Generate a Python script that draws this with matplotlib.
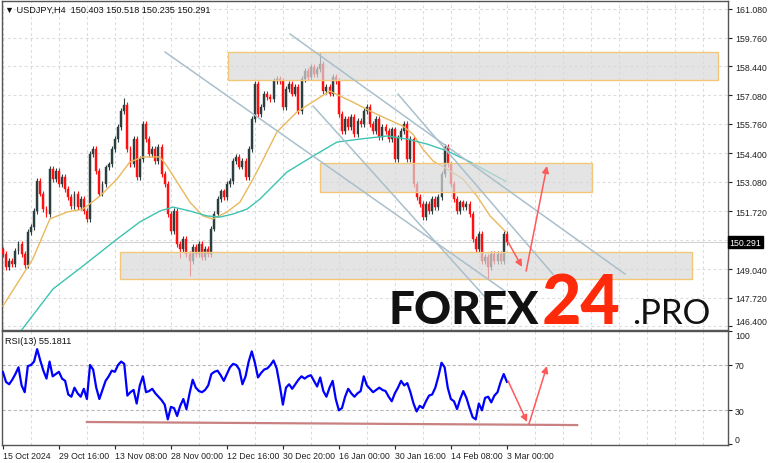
"""USDJPY H4 chart with RSI(13), MT4 style, FOREX24 watermark."""
import matplotlib
matplotlib.use("Agg")
import matplotlib.pyplot as plt
from matplotlib.patches import Rectangle
from matplotlib.ticker import FixedLocator

# ---- data (one candle ~ 3 px)
first_open = 149.95
closes = [
    149.74, 149.14, 149.41, 149.27, 149.88, 150.20, 149.74, 149.23, 150.76, 150.99,
    151.73, 153.12, 152.52, 151.82, 151.59, 153.67, 153.21, 153.58, 152.98, 153.30,
    152.75, 152.38, 151.96, 152.52, 151.91, 152.28, 151.73, 151.36, 154.37, 154.60,
    153.58, 152.52, 152.98, 153.76, 153.90, 154.60, 155.06, 155.62, 156.36, 156.64,
    154.60, 153.90, 155.06, 153.30, 154.14, 155.76, 155.06, 154.37, 154.60, 154.04,
    154.69, 153.44, 152.98, 151.59, 150.80, 151.73, 150.20, 149.97, 150.43, 149.74,
    149.41, 150.06, 149.74, 150.20, 149.60, 149.97, 149.74, 150.90, 151.59, 152.28,
    152.65, 152.38, 152.98, 153.12, 154.04, 154.23, 153.77, 154.04, 153.30, 154.60,
    155.99, 157.61, 156.22, 156.54, 157.15, 157.01, 156.91, 157.75, 157.84, 157.75,
    156.54, 157.38, 157.61, 157.15, 157.47, 156.36, 157.84, 158.21, 157.93, 158.40,
    158.07, 158.30, 158.53, 157.28, 157.47, 157.15, 157.93, 157.75, 156.22, 155.43,
    155.99, 155.62, 156.08, 155.29, 155.90, 155.76, 156.36, 156.54, 155.76, 155.43,
    155.99, 155.15, 155.62, 155.43, 155.06, 155.52, 154.14, 155.15, 155.43, 155.76,
    154.14, 155.06, 152.98, 152.38, 152.05, 151.45, 152.05, 151.73, 152.28, 151.91,
    152.38, 153.44, 154.69, 153.90, 152.98, 152.28, 151.73, 152.14, 151.91, 152.05,
    151.59, 150.43, 149.97, 150.66, 149.41, 149.60, 149.14, 149.74, 149.41, 149.74,
    149.41, 150.66, 150.29,
]
spike_high = {39: 156.95, 102: 159.02, 142: 154.85}
spike_low = {60: 148.72, 156: 148.60, 57: 149.55}

ma_fast_i = [0, 4.5, 9.6, 15.1, 20.6, 25.7, 31.2, 36.7, 40.8, 45, 50.5, 52.7, 56, 60.1,
             64.3, 67.5, 72, 76.2, 80.4, 82.6, 88.1, 94.5, 101, 105.1, 108.4, 112.5,
             118, 123.5, 128.6, 131.8, 135, 138.3, 142.8, 147.9, 152.4, 156.6, 161.7]
ma_fast = [147.33, 148.35, 149.51, 151.36, 151.68, 151.82, 152.42, 153.21, 154.00,
           154.23, 154.23, 153.81, 153.07, 152.14, 151.50, 151.36, 151.68, 152.14,
           153.21, 153.81, 155.39, 156.31, 156.91, 157.28, 157.05, 156.77, 156.36,
           155.99, 155.66, 155.29, 154.60, 154.04, 153.67, 153.21, 152.42, 151.50, 150.76]
ma_slow_i = [6, 16.1, 25.7, 36.7, 44, 50.5, 54.7, 60.1, 65.6, 69.8, 74, 78.5, 82.6,
             91.3, 99.7, 107.4, 114.8, 123.5, 129.9, 136.3, 142.8, 150.2, 161.7]
ma_slow = [146.22, 148.12, 149.18, 150.43, 151.22, 151.73, 151.91, 151.73, 151.50,
           151.45, 151.59, 151.82, 152.28, 153.53, 154.27, 154.92, 155.06, 155.20,
           155.06, 154.83, 154.51, 154.00, 153.10]

rsi = [
    63.8, 55, 53, 57, 62, 68, 52, 46, 69, 70, 73, 84, 74, 65, 58, 73, 60, 62, 64, 58,
    56, 44, 42, 50, 45, 42, 49, 40, 70, 66, 50, 40, 48, 56, 60, 65, 64, 70, 73, 71,
    43, 46, 48, 36, 52, 60, 46, 47, 49, 45, 42, 39, 35, 22, 33, 32, 25, 34, 40, 31,
    45, 57, 50, 47, 46, 48, 52, 62, 64, 65, 61, 56, 62, 68, 71, 70, 66, 53, 60, 73,
    82, 72, 59, 63, 66, 67, 70, 74, 67, 52, 35, 50, 53, 49, 53, 57, 60, 58, 60, 61,
    56, 51, 59, 47, 42, 50, 56, 40, 30, 32, 42, 49, 45, 42, 45, 47, 60, 52, 49, 46,
    48, 50, 48, 47, 42, 38, 45, 50, 56, 52, 54, 46, 36, 29, 34, 32, 38, 43, 44, 50,
    60, 72, 68, 50, 40, 38, 31, 40, 47, 41, 32, 24, 22, 36, 30, 41, 42, 37, 43, 46,
    55, 62, 55.18,
]

zone_start = [72.3, 101.9, 37.6]
zone_end = [229.9, 189.4, 221.5]
zone_low = [157.79, 152.61, 148.58]
zone_high = [159.09, 153.95, 149.83]

trend_i0 = [52.1, 99.7, 92.3, 127.0]
trend_p0 = [159.09, 156.59, 159.92, 157.14]
trend_i1 = [161.4, 155.6, 200.0, 176.8]
trend_p1 = [148.02, 147.65, 148.81, 148.81]

fc_i = [162.4, 166.9, 168.2, 174.9]
fc_price = [150.29, 149.14, 148.95, 153.81]
fc_rsi_i = [162.4, 168.5, 169.1, 174.9]
fc_rsi = [55.9, 19.7, 17.9, 69.1]
rsi_support_i = [27, 184.6]
rsi_support = [19.7, 17.0]

price_ticks = [146.40, 147.72, 149.04, 150.40, 151.72, 153.08, 154.40, 155.76,
               157.08, 158.44, 159.76, 161.08]
date_labels = ["15 Oct 2024", "29 Oct 16:00", "13 Nov 08:00", "28 Nov 00:00",
               "12 Dec 16:00", "30 Dec 20:00", "16 Jan 00:00", "30 Jan 16:00",
               "14 Feb 08:00", "3 Mar 00:00"]
last_price = 150.291

# ---- style
BULL = "#2c3e3e"
BEAR = "#ff1010"
GRID = "#dcdcdc"
FRAME = "#555555"
TREND = "#a9c0cc"
ARROW = "#ff5a5a"
plt.rcParams.update({"font.family": "Liberation Sans", "font.size": 6.3,
                     "axes.edgecolor": FRAME, "axes.linewidth": 1.0,
                     "xtick.color": "#222222", "ytick.color": "#222222"})

W, H = 768, 464
fig = plt.figure(figsize=(W / 100, H / 100), dpi=100)
ax = fig.add_axes([2 / W, 1 - 331 / H, 726 / W, 329 / H])
ax2 = fig.add_axes([2 / W, 1 - 446 / H, 726 / W, 114 / H])
xmax = 233.1

# ---- candles
opens = [first_open] + closes[:-1]
for i, (o, c) in enumerate(zip(opens, closes)):
    col = BULL if c >= o else BEAR
    hi = spike_high.get(i, max(o, c) + 0.12)
    lo = spike_low.get(i, min(o, c) - 0.12)
    ax.vlines(i, lo, hi, color=col, lw=0.8, zorder=3)
    ax.bar(i, max(abs(c - o), 0.03), bottom=min(o, c), width=0.62, color=col,
           edgecolor=col, lw=0.3, zorder=3)

ax.plot(ma_fast_i, ma_fast, color="#e9b85c", lw=1.0, zorder=4)
ax.plot(ma_slow_i, ma_slow, color="#3cc3b2", lw=1.0, zorder=4)

for s, e, lo, hi in zip(zone_start, zone_end, zone_low, zone_high):
    ax.add_patch(Rectangle((s, lo), e - s, hi - lo, facecolor="#d9d9d9", alpha=0.7,
                           edgecolor="none", zorder=5))
    ax.add_patch(Rectangle((s, lo), e - s, hi - lo, facecolor="none",
                           edgecolor="#f2c77a", lw=1.0, zorder=5))

for a0, p0, a1, p1 in zip(trend_i0, trend_p0, trend_i1, trend_p1):
    ax.plot([a0, a1], [p0, p1], color=TREND, lw=1.1, zorder=6)

ax.axhline(last_price, color="#cfcfcf", lw=0.7, zorder=1)

for k in (0, 2):
    ax.annotate("", xy=(fc_i[k + 1], fc_price[k + 1]), xytext=(fc_i[k], fc_price[k]),
                arrowprops=dict(arrowstyle="-|>", color=ARROW, lw=1.1,
                                mutation_scale=10, shrinkA=0, shrinkB=0), zorder=7)

ax.set_xlim(-0.3, xmax)
ax.set_ylim(146.22, 161.45)
ax.yaxis.tick_right()
ax.set_yticks(price_ticks)
# the 150.400 label sits under the current-price box, as in the terminal
ax.set_yticklabels(["" if abs(v - 150.40) < 1e-6 else f"{v:.3f}" for v in price_ticks])
ax.tick_params(axis="y", length=3, width=0.8, pad=2)
ax.xaxis.set_major_locator(FixedLocator([9 * k for k in range(26)]))
ax.tick_params(axis="x", length=0, labelbottom=False)
ax.grid(True, color=GRID, lw=0.8, ls=(0, (2.5, 2.5)))
ax.set_axisbelow(True)
for lab in ax.get_yticklabels():
    if lab.get_text() == "146.400":
        lab.set_va("bottom")

ax.text(1.002, last_price, "150.291", transform=ax.get_yaxis_transform(),
        ha="left", va="center", color="white", fontsize=6.3, zorder=10,
        bbox=dict(boxstyle="square,pad=0.15", fc="black", ec="black"), clip_on=False)
ax.text(0.004, 0.987, "\u25bc USDJPY,H4  150.403 150.518 150.235 150.291",
        transform=ax.transAxes, ha="left", va="top", fontsize=6.6,
        family=["Liberation Sans", "DejaVu Sans"], color="#111111", zorder=10)

# ---- RSI panel
ax2.plot(range(len(rsi)), rsi, color="#0000ff", lw=1.6, zorder=4)
for lvl in (30, 70):
    ax2.axhline(lvl, color="#b8b8b8", lw=0.8, ls=(0, (3, 2)), zorder=1)
ax2.plot(rsi_support_i, rsi_support, color="#c98080", lw=1.6, zorder=3)
for k in (0, 2):
    ax2.annotate("", xy=(fc_rsi_i[k + 1], fc_rsi[k + 1]), xytext=(fc_rsi_i[k], fc_rsi[k]),
                 arrowprops=dict(arrowstyle="-|>", color=ARROW, lw=1.1,
                                 mutation_scale=10, shrinkA=0, shrinkB=0), zorder=7)
ax2.set_xlim(-0.3, xmax)
ax2.set_ylim(-0.6, 100)
ax2.yaxis.tick_right()
ax2.set_yticks([0, 30, 70, 100])
ax2.set_yticklabels(["0", "30", "70", "100"])
ax2.tick_params(axis="y", length=3, width=0.8, pad=2)
labs = ax2.get_yticklabels()
labs[0].set_va("bottom")
labs[-1].set_va("top")
ax2.set_xticks([18 * k for k in range(len(date_labels))])
ax2.set_xticklabels(date_labels, ha="left")
ax2.set_xticks([9 * k for k in range(26)], minor=True)
ax2.tick_params(axis="x", which="major", length=3, width=0.8, pad=1.5)
ax2.tick_params(axis="x", which="minor", length=0)
ax2.grid(True, axis="x", which="minor", color=GRID, lw=0.8, ls=(0, (2.5, 2.5)))
ax2.set_axisbelow(True)
ax2.text(0.004, 0.955, "RSI(13) 55.1811", transform=ax2.transAxes, ha="left", va="top",
         fontsize=6.6, color="#111111")

# ---- watermark
base = 1 - 324 / H
fig.text(389 / W, base, "FOREX", fontsize=33, fontweight="black", family="Lato",
         color="#111111", va="baseline", zorder=20)
fig.text(542 / W, base, "24", fontsize=49, fontweight="black", family="Lato",
         color="#ff2a0a", va="baseline", zorder=20)
fig.text(632 / W, base, ".PRO", fontsize=25, fontweight="normal", family="Lato",
         color="#111111", va="baseline", zorder=20)

fig.savefig("out.png", dpi=100, facecolor="white")
